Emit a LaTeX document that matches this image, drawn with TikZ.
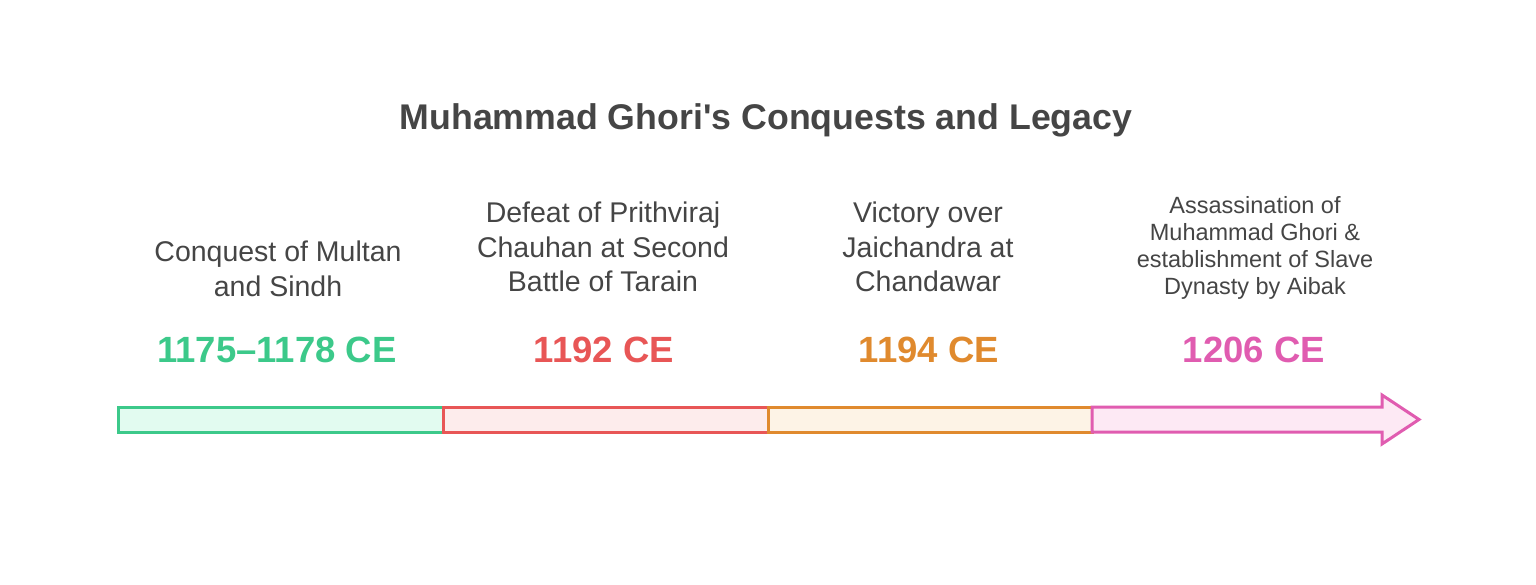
\documentclass[tikz,border=0pt]{standalone}
\usepackage{fontspec}
\setmainfont{Liberation Sans}
\definecolor{txt}{HTML}{454545}
\definecolor{gB}{HTML}{3CC98A}\definecolor{gF}{HTML}{E2FBF0}
\definecolor{rB}{HTML}{E85656}\definecolor{rF}{HTML}{FDECEC}
\definecolor{oB}{HTML}{E08A2E}\definecolor{oF}{HTML}{FDF3E6}
\definecolor{pB}{HTML}{E05CB0}\definecolor{pF}{HTML}{FDE9F4}
\tikzset{
  lbl/.style={text=txt,align=center,font=\fontsize{28.5}{34.5}\selectfont,anchor=south},
  lblsm/.style={text=txt,align=center,font=\fontsize{23.5}{27}\selectfont,anchor=south},
  yr/.style={font=\bfseries\fontsize{36.5}{42}\selectfont,anchor=center},
  seg/.style={line width=3pt,line join=miter}
}
\begin{document}
\begin{tikzpicture}[x=1pt,y=-1pt]
\useasboundingbox (0,0) rectangle (1536,584);
\node[text=txt,font=\bfseries\fontsize{35.7}{42}\selectfont] (title) at (766,120) {Muhammad Ghori\textquotesingle s Conquests and Legacy};
% bar
\draw[seg,draw=gB,fill=gF] (118,407) rectangle (443,432);
\draw[seg,draw=rB,fill=rF] (443,407) rectangle (768,432);
\draw[seg,draw=oB,fill=oF] (768,407) rectangle (1092,432);
\draw[seg,draw=pB,fill=pF] (1092,407) -- (1382,407) -- (1382,395) -- (1419,419.5) -- (1382,444) -- (1382,432) -- (1092,432) -- cycle;
% labels
\node[lbl] (l1) at (278,300) {Conquest of Multan\\and Sindh};
\node[lbl] (l2) at (603,295.5) {Defeat of Prithviraj\\Chauhan at Second\\Battle of Tarain};
\node[lbl] (l3) at (928,295.5) {Victory over\\Jaichandra at\\Chandawar};
\node[lblsm] (l4) at (1255,303) {Assassination of\\Muhammad Ghori \&\\establishment of Slave\\Dynasty by Aibak};
% years
\node[yr,text=gB] (y1) at (277,350) {1175–1178 CE};
\node[yr,text=rB] (y2) at (604,350) {1192 CE};
\node[yr,text=oB] (y3) at (929,350) {1194 CE};
\node[yr,text=pB] (y4) at (1254,350) {1206 CE};
\end{tikzpicture}
\end{document}
